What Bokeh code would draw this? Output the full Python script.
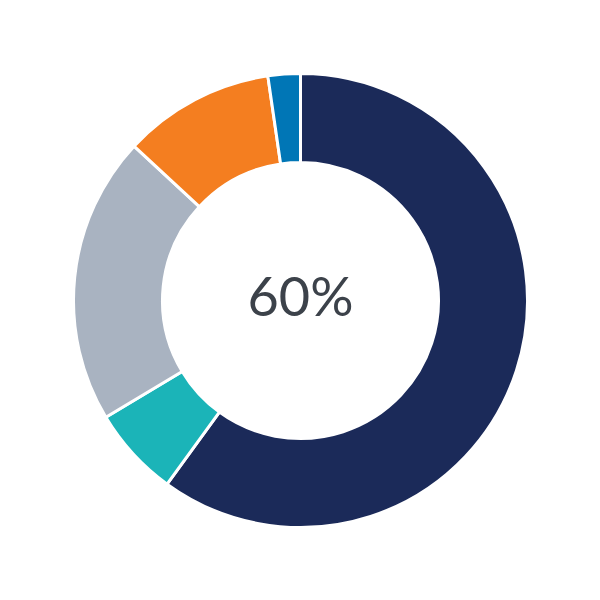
import numpy as np
from bokeh.models import ColumnDataSource, Range1d
from bokeh.plotting import figure
from bokeh.core.properties import value
from bokeh.embed import file_html
from bokeh.resources import INLINE

categories = ["A", "B", "C", "D", "E"]
shares = [60.0, 6.4, 20.5, 10.8, 2.3]
colors = ["#1b2a59", "#1bb4b8", "#a9b3c1", "#f47e20", "#0076b6"]
center_label = "60%"

frac = np.array(shares) / sum(shares)
ends = np.cumsum(frac)
starts = ends - frac
# bokeh angles go counter-clockwise from +x, so start at pi/2 and go clockwise
start_angle = np.pi / 2 - starts * 2 * np.pi
end_angle = np.pi / 2 - ends * 2 * np.pi

source = ColumnDataSource(data=dict(
    cat=categories, share=shares, color=colors,
    start=start_angle, end=end_angle,
))

# ranges offset so the ring's centre lands in the middle of the window
p = figure(width=584, height=584, output_backend="svg", toolbar_location=None,
           x_range=Range1d(-300, 284), y_range=Range1d(-284, 300),
           min_border=0, outline_line_color=None)
p.axis.visible = False
p.grid.visible = False

p.annular_wedge(x=0, y=0, inner_radius=138, outer_radius=227,
                start_angle="start", end_angle="end", direction="clock",
                fill_color="color", line_color="white", line_width=3,
                source=source)

# nudge up a little: "middle" baseline sits digits slightly low
p.text(x=[0], y=[5], text=[center_label], text_align="center",
       text_baseline="middle", text_font=value("Lato"),
       text_font_size="54px", text_color="#3c424a")

open("out.html", "w").write(file_html(p, INLINE))
